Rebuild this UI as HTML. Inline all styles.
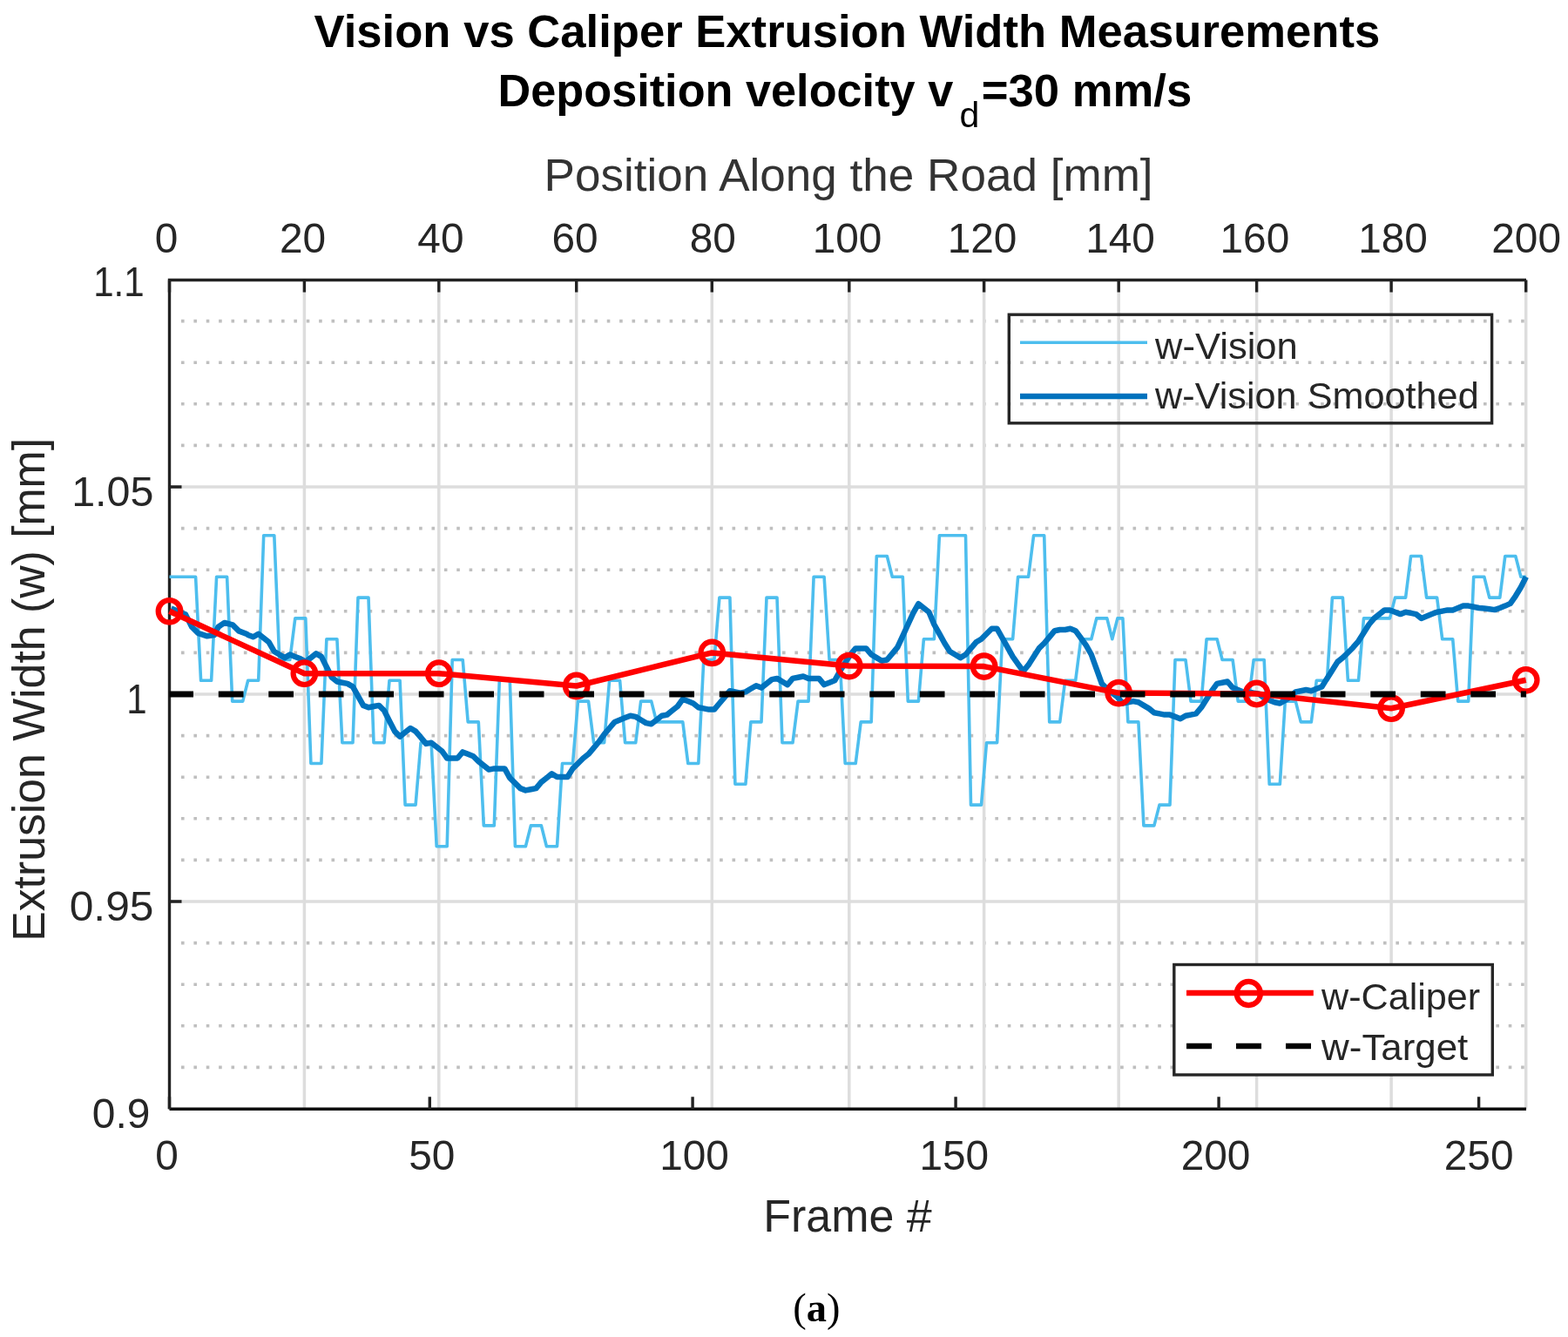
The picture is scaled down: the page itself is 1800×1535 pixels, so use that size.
<!DOCTYPE html>
<html><head><meta charset="utf-8"><title>Vision vs Caliper Extrusion Width Measurements</title>
<style>
html,body{margin:0;padding:0;background:#fff;}
body{width:1800px;height:1535px;overflow:hidden;}
svg{display:block;}
text{font-family:"Liberation Sans",Arial,Helvetica,sans-serif;}
.mn{stroke:#bfbfbf;stroke-width:3.6;stroke-dasharray:3.6 10.775;}
.mj{stroke:#dddddd;stroke-width:3.5;}
.tk text{font-size:47.8px;fill:#262626;}
.lg text{fill:#262626;}
</style></head>
<body>
<svg width="1800" height="1535" viewBox="0 0 1800 1535">
<rect width="1800" height="1535" fill="#fff"/>
<g id="grid">
<line x1="208" y1="1225.4" x2="1752" y2="1225.4" class="mn"/>
<line x1="208" y1="1177.8" x2="1752" y2="1177.8" class="mn"/>
<line x1="208" y1="1130.2" x2="1752" y2="1130.2" class="mn"/>
<line x1="208" y1="1082.6" x2="1752" y2="1082.6" class="mn"/>
<line x1="208" y1="987.4" x2="1752" y2="987.4" class="mn"/>
<line x1="208" y1="939.8" x2="1752" y2="939.8" class="mn"/>
<line x1="208" y1="892.2" x2="1752" y2="892.2" class="mn"/>
<line x1="208" y1="844.6" x2="1752" y2="844.6" class="mn"/>
<line x1="208" y1="749.4" x2="1752" y2="749.4" class="mn"/>
<line x1="208" y1="701.8" x2="1752" y2="701.8" class="mn"/>
<line x1="208" y1="654.2" x2="1752" y2="654.2" class="mn"/>
<line x1="208" y1="606.6" x2="1752" y2="606.6" class="mn"/>
<line x1="208" y1="511.4" x2="1752" y2="511.4" class="mn"/>
<line x1="208" y1="463.8" x2="1752" y2="463.8" class="mn"/>
<line x1="208" y1="416.2" x2="1752" y2="416.2" class="mn"/>
<line x1="208" y1="368.6" x2="1752" y2="368.6" class="mn"/>
<line x1="194.5" y1="1035" x2="1752" y2="1035" class="mj"/>
<line x1="194.5" y1="797" x2="1752" y2="797" class="mj"/>
<line x1="194.5" y1="559" x2="1752" y2="559" class="mj"/>
<line x1="349.4" y1="321.5" x2="349.4" y2="1273.2" class="mj"/>
<line x1="503.8" y1="321.5" x2="503.8" y2="1273.2" class="mj"/>
<line x1="661.7" y1="321.5" x2="661.7" y2="1273.2" class="mj"/>
<line x1="817.3" y1="321.5" x2="817.3" y2="1273.2" class="mj"/>
<line x1="974.8" y1="321.5" x2="974.8" y2="1273.2" class="mj"/>
<line x1="1129.6" y1="321.5" x2="1129.6" y2="1273.2" class="mj"/>
<line x1="1284.2" y1="321.5" x2="1284.2" y2="1273.2" class="mj"/>
<line x1="1442.6" y1="321.5" x2="1442.6" y2="1273.2" class="mj"/>
<line x1="1597.1" y1="321.5" x2="1597.1" y2="1273.2" class="mj"/>
<line x1="1751.7" y1="321.5" x2="1751.7" y2="1273.2" class="mj"/>
</g>
<g id="axes" fill="none" stroke="#222" stroke-width="3.4">
<path d="M194.5 1273.2 V321.5 H1752"/>
<path d="M194.5 1273.2 H1752" stroke="#080808"/>
<path d="M194.5 1273.2 V1259.2 M493.3 1273.2 V1259.2 M795.1 1273.2 V1259.2 M1097.1 1273.2 V1259.2 M1399.1 1273.2 V1259.2 M1697.6 1273.2 V1259.2 M194.5 321.5 V335.5 M349.4 321.5 V335.5 M503.8 321.5 V335.5 M661.7 321.5 V335.5 M817.3 321.5 V335.5 M974.8 321.5 V335.5 M1129.6 321.5 V335.5 M1284.2 321.5 V335.5 M1442.6 321.5 V335.5 M1597.1 321.5 V335.5 M1751.7 321.5 V335.5 M194.5 1035 H208.5 M194.5 797 H208.5 M194.5 559 H208.5"/>
</g>
<rect x="1158.3" y="361.2" width="554.3" height="124.6" fill="none" stroke="#262626" stroke-width="3.4"/>
<g id="data" fill="none" stroke-linejoin="round">
<path d="M194.5 662.3 L224.6 662.3 L230.6 781.3 L242.6 781.3 L248.6 662.3 L260.6 662.3 L266.7 805.1 L278.7 805.1 L284.7 781.3 L296.7 781.3 L302.7 614.7 L314.8 614.7 L320.8 757.5 L332.8 757.5 L338.8 709.9 L350.8 709.9 L356.9 876.5 L368.9 876.5 L374.9 733.7 L386.9 733.7 L392.9 852.7 L405 852.7 L411 686.1 L423 686.1 L429 852.7 L441 852.7 L447 781.3 L459.1 781.3 L465.1 924.1 L477.1 924.1 L483.1 852.7 L495.1 852.7 L501.2 971.7 L513.2 971.7 L519.2 757.5 L531.2 757.5 L537.2 828.9 L549.3 828.9 L555.3 947.9 L567.3 947.9 L573.3 781.3 L585.3 781.3 L591.4 971.7 L603.4 971.7 L609.4 947.9 L621.4 947.9 L627.4 971.7 L639.5 971.7 L645.5 876.5 L657.5 876.5 L663.5 805.1 L675.5 805.1 L681.6 852.7 L693.6 852.7 L699.6 781.3 L711.6 781.3 L717.6 852.7 L729.7 852.7 L735.7 805.1 L747.7 805.1 L753.7 828.9 L783.8 828.9 L789.8 876.5 L801.8 876.5 L807.8 757.5 L819.9 757.5 L825.9 686.1 L837.9 686.1 L843.9 900.3 L855.9 900.3 L861.9 828.9 L874 828.9 L880 686.1 L892 686.1 L898 852.7 L910 852.7 L916.1 805.1 L928.1 805.1 L934.1 662.3 L946.1 662.3 L952.1 757.5 L964.2 757.5 L970.2 876.5 L982.2 876.5 L988.2 828.9 L1000.2 828.9 L1006.3 638.5 L1018.3 638.5 L1024.3 662.3 L1036.3 662.3 L1042.3 805.1 L1054.4 805.1 L1060.4 733.7 L1072.4 733.7 L1078.4 614.7 L1108.5 614.7 L1114.5 924.1 L1126.5 924.1 L1132.5 852.7 L1144.6 852.7 L1150.6 733.7 L1162.6 733.7 L1168.6 662.3 L1180.6 662.3 L1186.6 614.7 L1198.7 614.7 L1204.7 828.9 L1216.7 828.9 L1222.7 781.3 L1234.7 781.3 L1240.8 733.7 L1252.8 733.7 L1258.8 709.9 L1270.8 709.9 L1276.8 733.7 L1282.9 709.9 L1288.9 709.9 L1294.9 828.9 L1306.9 828.9 L1312.9 947.9 L1324.9 947.9 L1331 924.1 L1343 924.1 L1349 757.5 L1361 757.5 L1367 805.1 L1379.1 805.1 L1385.1 733.7 L1397.1 733.7 L1403.1 757.5 L1415.1 757.5 L1421.2 805.1 L1433.2 805.1 L1439.2 757.5 L1451.2 757.5 L1457.2 900.3 L1469.3 900.3 L1475.3 805.1 L1487.3 805.1 L1493.3 828.9 L1505.3 828.9 L1511.3 781.3 L1523.4 781.3 L1529.4 686.1 L1541.4 686.1 L1547.4 781.3 L1559.5 781.3 L1565.5 709.9 L1595.5 709.9 L1601.5 686.1 L1613.6 686.1 L1619.6 638.5 L1631.6 638.5 L1637.6 686.1 L1649.6 686.1 L1655.7 733.7 L1667.7 733.7 L1673.7 805.1 L1685.7 805.1 L1691.7 662.3 L1703.8 662.3 L1709.8 686.1 L1721.8 686.1 L1727.8 638.5 L1739.8 638.5 L1745.9 662.3 L1751.9 662.3" stroke="#4DBEEE" stroke-width="3.6"/>
<path d="M196.5 698.6 L213.1 705.6 L220.2 719.7 L227.2 726.8 L237.8 730.3 L246 729 L250.6 719.7 L257.7 715 L267 717.4 L274.1 724.4 L283.5 728 L284.7 728.9 L290.7 731.3 L296.7 727.7 L302.7 732.5 L308.7 737.3 L314.8 748 L320.8 751.5 L326.8 755.1 L332.8 751.5 L338.8 753.9 L344.8 756.3 L350.8 759.9 L356.9 755.1 L362.9 750.4 L368.9 753.9 L374.9 765.8 L380.9 777.7 L386.9 782.5 L392.9 783.7 L398.9 784.9 L405 788.4 L411 799.1 L417 809.9 L423 812.2 L429 811 L435 809.9 L441 815.8 L447 827.7 L453.1 839.6 L459.1 845.6 L465.1 840.8 L471.1 836 L477.1 839.6 L483.1 846.7 L489.1 853.9 L495.1 852.7 L501.2 857.5 L507.2 862.2 L513.2 870.5 L519.2 870.5 L525.2 870.5 L531.2 863.4 L537.2 865.8 L543.3 868.2 L549.3 874.1 L555.3 878.9 L561.3 883.6 L567.3 882.4 L573.3 882.4 L579.3 882.4 L585.3 893.2 L591.4 899.1 L597.4 905.1 L603.4 907.4 L609.4 906.2 L615.4 905.1 L621.4 897.9 L627.4 893.2 L633.4 888.4 L639.5 892 L645.5 892 L651.5 892 L657.5 882.4 L663.5 876.5 L669.5 870.5 L675.5 865.8 L681.6 858.6 L687.6 851.5 L693.6 843.2 L699.6 836 L705.6 828.9 L711.6 826.5 L717.6 824.1 L723.6 821.8 L729.7 822.9 L735.7 826.5 L741.7 830.1 L747.7 831.3 L753.7 826.5 L759.7 821.8 L765.7 820.6 L771.7 815.8 L777.8 811 L783.8 802.7 L789.8 805.1 L795.8 807.5 L801.8 812.2 L807.8 813.4 L813.8 814.6 L819.9 814.6 L825.9 807.5 L831.9 800.3 L837.9 793.2 L843.9 794.4 L849.9 795.6 L855.9 794.4 L861.9 790.8 L868 787.2 L874 789.6 L880 784.9 L886 780.1 L892 778.9 L898 782.5 L904 786.1 L910 778.9 L916.1 777.7 L922.1 776.5 L928.1 778.9 L934.1 778.9 L940.1 778.9 L946.1 786.1 L952.1 783.7 L958.2 781.3 L964.2 770.6 L970.2 761.1 L976.2 751.5 L982.2 744.4 L988.2 744.4 L994.2 744.4 L1000.2 751.5 L1006.3 755.1 L1012.3 758.7 L1018.3 757.5 L1024.3 750.4 L1030.3 743.2 L1036.3 730.1 L1042.3 717 L1048.3 703.9 L1054.4 693.2 L1060.4 698 L1066.4 702.8 L1072.4 717 L1078.4 727.7 L1084.4 738.5 L1090.4 748 L1096.4 751.5 L1102.5 755.1 L1108.5 751.5 L1114.5 744.4 L1120.5 737.3 L1126.5 733.7 L1132.5 727.7 L1138.5 721.8 L1144.6 721.8 L1150.6 732.5 L1156.6 743.2 L1162.6 753.9 L1168.6 762.3 L1174.6 770.6 L1180.6 763.4 L1186.6 753.9 L1192.7 744.4 L1198.7 738.5 L1204.7 731.3 L1210.7 724.2 L1216.7 723 L1222.7 723 L1228.7 721.8 L1234.7 724.2 L1240.8 732.5 L1246.8 740.8 L1252.8 751.5 L1258.8 768.2 L1264.8 784.9 L1270.8 790.8 L1276.8 795.6 L1282.9 800.3 L1288.9 807.5 L1294.9 806.3 L1300.9 805.1 L1306.9 806.3 L1312.9 809.9 L1318.9 813.4 L1324.9 818.2 L1331 819.4 L1337 820.6 L1343 820.6 L1349 822.9 L1355 825.3 L1361 821.8 L1367 820.6 L1373 819.4 L1379.1 812.2 L1385.1 802.7 L1391.1 793.2 L1397.1 784.9 L1403.1 783.7 L1409.1 782.5 L1415.1 789.6 L1421.2 792 L1427.2 794.4 L1433.2 794.4 L1439.2 795.6 L1445.2 796.8 L1451.2 801.5 L1457.2 803.9 L1463.2 806.3 L1469.3 807.5 L1475.3 803.9 L1481.3 800.3 L1487.3 794.4 L1493.3 793.2 L1499.3 792 L1505.3 793.2 L1511.3 790.8 L1517.4 788.4 L1523.4 778.9 L1529.4 769.4 L1535.4 759.9 L1541.4 755.1 L1547.4 749.2 L1553.4 743.2 L1559.5 736.1 L1565.5 726.6 L1571.5 717 L1577.5 709.9 L1583.5 705.1 L1589.5 700.4 L1595.5 700.4 L1601.5 702.8 L1607.6 705.1 L1613.6 702.8 L1619.6 703.9 L1625.6 705.1 L1631.6 709.9 L1637.6 707.5 L1643.6 705.1 L1649.6 702.8 L1655.7 701.6 L1661.7 700.4 L1667.7 700.4 L1673.7 698 L1679.7 695.6 L1685.7 695.6 L1691.7 696.8 L1697.8 698 L1703.8 698.6 L1709.8 699.3 L1715.8 700.1 L1721.8 698 L1727.8 695.6 L1733.8 692.9 L1739.8 684.3 L1745.9 674.2 L1751.9 662.3" stroke="#0072BD" stroke-width="6.5"/>
<path d="M194.5 701.8 L349.4 773.2 L503.8 773.2 L661.7 787.5 L817.3 749.4 L974.8 764.6 L1129.6 765.1 L1284.2 795.6 L1442.6 796.5 L1597.1 813.2 L1751.7 780.8" stroke="#FF0000" stroke-width="6.5"/>
<g stroke="#FF0000" stroke-width="6.2"><circle cx="194.5" cy="701.8" r="12.8"/><circle cx="349.4" cy="773.2" r="12.8"/><circle cx="503.8" cy="773.2" r="12.8"/><circle cx="661.7" cy="787.5" r="12.8"/><circle cx="817.3" cy="749.4" r="12.8"/><circle cx="974.8" cy="764.6" r="12.8"/><circle cx="1129.6" cy="765.1" r="12.8"/><circle cx="1284.2" cy="795.6" r="12.8"/><circle cx="1442.6" cy="796.5" r="12.8"/><circle cx="1597.1" cy="813.2" r="12.8"/><circle cx="1751.7" cy="780.8" r="12.8"/></g>
<line x1="194.5" y1="797" x2="1752" y2="797" stroke="#000" stroke-width="7" stroke-dasharray="28.7 28.8" stroke-dashoffset="1.2"/>
</g>
<g class="lg">
<line x1="1171" y1="393.3" x2="1317" y2="393.3" stroke="#4DBEEE" stroke-width="3.6"/>
<line x1="1171" y1="454.9" x2="1317" y2="454.9" stroke="#0072BD" stroke-width="6.5"/>
<text x="1326.1" y="412" font-size="43px" textLength="163.7" lengthAdjust="spacingAndGlyphs">w-Vision</text>
<text x="1326.1" y="469.4" font-size="43px" textLength="371.6" lengthAdjust="spacingAndGlyphs">w-Vision Smoothed</text>
<rect x="1347.8" y="1107.5" width="365.5" height="126.5" fill="#fff" stroke="#262626" stroke-width="3.4"/>
<line x1="1362" y1="1140" x2="1507.8" y2="1140" stroke="#FF0000" stroke-width="6.5"/>
<circle cx="1433.3" cy="1140.5" r="13.6" fill="none" stroke="#FF0000" stroke-width="6.2"/>
<line x1="1362" y1="1201" x2="1507.8" y2="1201" stroke="#000" stroke-width="6.5" stroke-dasharray="29 28"/>
<text x="1517.1" y="1159" font-size="43px" textLength="182.1" lengthAdjust="spacingAndGlyphs">w-Caliper</text>
<text x="1517.1" y="1216.5" font-size="43px" textLength="168.2" lengthAdjust="spacingAndGlyphs">w-Target</text>
</g>
<g class="tk">
<text x="191.1" y="290.3" text-anchor="middle">0</text>
<text x="347.5" y="290.3" text-anchor="middle">20</text>
<text x="505.9" y="290.3" text-anchor="middle">40</text>
<text x="660" y="290.3" text-anchor="middle">60</text>
<text x="818.3" y="290.3" text-anchor="middle">80</text>
<text x="972.5" y="290.3" text-anchor="middle">100</text>
<text x="1127.5" y="290.3" text-anchor="middle">120</text>
<text x="1286" y="290.3" text-anchor="middle">140</text>
<text x="1440.4" y="290.3" text-anchor="middle">160</text>
<text x="1599" y="290.3" text-anchor="middle">180</text>
<text x="1752.1" y="290.3" text-anchor="middle">200</text>
<text x="191.5" y="1342.5" text-anchor="middle">0</text>
<text x="495.8" y="1342.5" text-anchor="middle">50</text>
<text x="797" y="1342.5" text-anchor="middle">100</text>
<text x="1095.3" y="1342.5" text-anchor="middle">150</text>
<text x="1395.5" y="1342.5" text-anchor="middle">200</text>
<text x="1697.6" y="1342.5" text-anchor="middle">250</text>
<text x="105.8" y="1294.5" textLength="66.6" lengthAdjust="spacingAndGlyphs">0.9</text>
<text x="79.7" y="1056.5" textLength="96.8" lengthAdjust="spacingAndGlyphs">0.95</text>
<text x="145.3" y="818.5" textLength="23.4" lengthAdjust="spacingAndGlyphs">1</text>
<text x="82.2" y="580.5" textLength="94.2" lengthAdjust="spacingAndGlyphs">1.05</text>
<text x="107.2" y="340" textLength="58.5" lengthAdjust="spacingAndGlyphs">1.1</text>
</g>
<text x="360.6" y="54.3" font-size="52.6px" textLength="1223.6" lengthAdjust="spacingAndGlyphs" font-weight="bold">Vision vs Caliper Extrusion Width Measurements</text>
<text x="571.5" y="121.5" font-size="52.6px" textLength="522.7" lengthAdjust="spacingAndGlyphs" font-weight="bold">Deposition velocity v</text>
<text x="1101.5" y="145.5" font-size="41px" fill="#000">d</text>
<text x="1126.8" y="121.5" font-size="52.6px" textLength="241.4" lengthAdjust="spacingAndGlyphs" font-weight="bold">=30 mm/s</text>
<text x="624.6" y="218.6" font-size="52.6px" textLength="699" lengthAdjust="spacingAndGlyphs" fill="#333">Position Along the Road [mm]</text>
<text x="876.2" y="1414" font-size="52.6px" textLength="193.5" lengthAdjust="spacingAndGlyphs" fill="#262626">Frame #</text>
<text transform="translate(50.8 1076.5) rotate(-90)" x="-4.3" y="0" font-size="52.6px" textLength="577.9" lengthAdjust="spacingAndGlyphs" fill="#262626">Extrusion Width (w) [mm]</text>
<text x="937.3" y="1516.7" text-anchor="middle" font-size="46.5px" fill="#000" style="font-family:'Liberation Serif',serif">(<tspan font-weight="bold">a</tspan>)</text>
</svg>
</body></html>
